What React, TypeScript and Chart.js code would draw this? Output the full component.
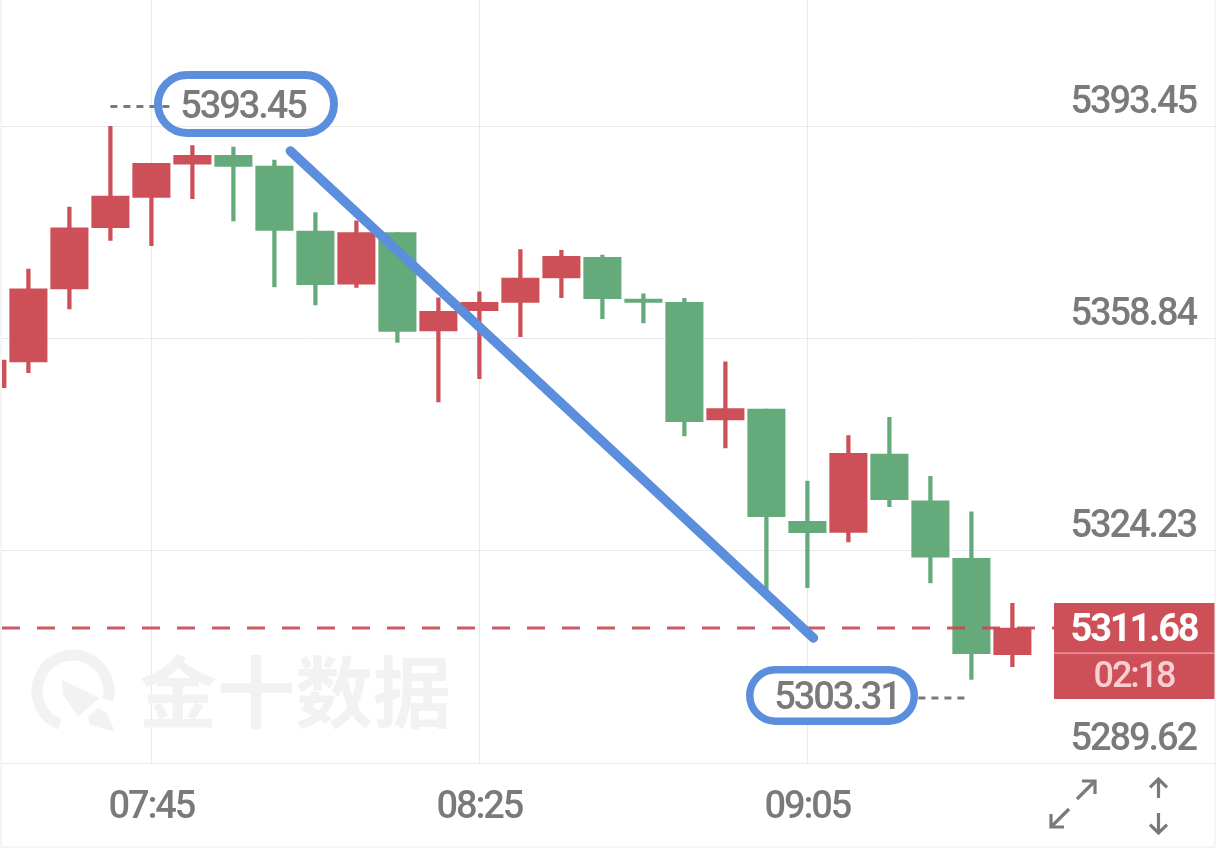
import React, { useEffect, useRef } from "react";
import { Chart, registerables } from "chart.js";

Chart.register(...registerables);

const times = ["07:25","07:30","07:35","07:40","07:45","07:50","07:55","08:00","08:05","08:10","08:15","08:20","08:25","08:30","08:35","08:40","08:45","08:50","08:55","09:00","09:05","09:10","09:15","09:20","09:25","09:30"];
const opens = [5350.84,5355.03,5366.93,5376.92,5381.88,5387.26,5388.72,5386.98,5376.38,5367.70,5376.11,5360.08,5363.39,5364.76,5368.72,5372.10,5365.30,5364.76,5345.58,5347.37,5329.06,5327.27,5340.03,5332.42,5323.03,5307.32];
const highs = [5355.36,5370.19,5380.30,5393.45,5387.42,5390.29,5390.08,5387.96,5379.37,5378.06,5376.11,5365.51,5366.49,5373.34,5373.24,5372.47,5366.16,5365.41,5355.08,5347.37,5335.63,5343.02,5346.02,5336.40,5330.63,5315.70];
const lows = [5350.84,5353.29,5363.67,5374.87,5373.99,5381.65,5378.01,5367.26,5364.32,5367.21,5358.24,5348.51,5352.31,5359.15,5365.51,5362.09,5361.39,5342.97,5341.01,5317.54,5318.24,5325.69,5331.44,5319.01,5303.31,5305.36];
const closes = [5355.36,5366.98,5376.92,5382.09,5387.42,5388.72,5386.93,5376.50,5367.63,5376.11,5360.03,5363.29,5364.76,5368.72,5372.26,5365.35,5364.76,5345.30,5347.42,5329.81,5327.21,5340.15,5332.59,5323.20,5307.48,5311.68];

const priceTicks = [5393.45, 5358.84, 5324.23, 5289.62];
const timeTicks = ["07:45", "08:25", "09:05"];
const currentPrice = 5311.68;
const countdown = "02:18";
const maxPrice = 5393.45;
const minPrice = 5303.31;
const trendTimes = ["08:01:57", "09:05:44"];
const trendPrices = [5389.42, 5310.04];
const watermark = "金十数据";

const RED = "#cd5058";
const GREEN = "#64aa7a";
const BLUE = "#5c8ede";
const GRAY = "#7a7a7a";
const FONT = "Roboto, sans-serif";
const TRACK = "-2.1px";

const toMin = (t: string) => {
  const p = t.split(":").map(Number);
  return p[0] * 60 + p[1] + (p[2] || 0) / 60;
};
const fromMin = (m: number) => {
  const h = Math.floor(m / 60);
  const mm = Math.round(m - h * 60);
  return `${String(h).padStart(2, "0")}:${String(mm).padStart(2, "0")}`;
};
const colors = opens.map((o, i) => (closes[i] >= o ? RED : GREEN));

function pill(ctx: CanvasRenderingContext2D, x0: number, y0: number, x1: number, y1: number, w: number) {
  ctx.beginPath();
  ctx.roundRect(x0 + w / 2, y0 + w / 2, x1 - x0 - w, y1 - y0 - w, (y1 - y0 - w) / 2);
  ctx.lineWidth = w;
  ctx.strokeStyle = BLUE;
  ctx.stroke();
}

function arrow(ctx: CanvasRenderingContext2D, ax: number, ay: number, bx: number, by: number, s: number) {
  const a = Math.atan2(by - ay, bx - ax);
  ctx.beginPath();
  ctx.moveTo(ax, ay);
  ctx.lineTo(bx, by);
  ctx.moveTo(bx - s * Math.cos(a - Math.PI / 4), by - s * Math.sin(a - Math.PI / 4));
  ctx.lineTo(bx, by);
  ctx.lineTo(bx - s * Math.cos(a + Math.PI / 4), by - s * Math.sin(a + Math.PI / 4));
  ctx.stroke();
}

const backgroundPlugin = {
  id: "wm",
  beforeDraw(chart: any) {
    (chart.ctx as any).letterSpacing = TRACK;
  },
  beforeDatasetsDraw(chart: any) {
    const ctx: any = chart.ctx;
    ctx.save();
    ctx.letterSpacing = "0px";
    ctx.fillStyle = "#f2f2f2";
    ctx.font = 'bold 78px "Noto Sans CJK SC"';
    ctx.textBaseline = "middle";
    ctx.textAlign = "left";
    ctx.fillText(watermark, 139, 692);
    ctx.strokeStyle = "#f2f2f2";
    ctx.lineWidth = 11;
    ctx.beginPath();
    ctx.arc(73, 691, 36, Math.PI * 0.62, Math.PI * 2.08);
    ctx.stroke();
    ctx.beginPath();
    [[62, 680], [100, 698], [82, 713], [78, 717], [63, 695]].forEach(([x, y], i) => (i ? ctx.lineTo(x, y) : ctx.moveTo(x, y)));
    ctx.closePath();
    ctx.fill();
    ctx.beginPath();
    [[98, 708], [107, 713], [115, 732], [90, 725], [88, 717]].forEach(([x, y], i) => (i ? ctx.lineTo(x, y) : ctx.moveTo(x, y)));
    ctx.closePath();
    ctx.fill();
    ctx.restore();
  },
};

const overlayPlugin = {
  id: "overlay",
  afterDatasetsDraw(chart: any) {
    const ctx: CanvasRenderingContext2D = chart.ctx;
    const xs = chart.scales.x;
    const hiIdx = highs.indexOf(maxPrice);
    const loIdx = lows.indexOf(minPrice);
    const hiX = xs.getPixelForValue(toMin(times[hiIdx]));
    const loX = xs.getPixelForValue(toMin(times[loIdx]));
    ctx.save();
    // frame
    ctx.strokeStyle = "#ececec";
    ctx.lineWidth = 1;
    ctx.strokeRect(1, -2, 1214, 849);
    // hi / lo markers
    ctx.strokeStyle = GRAY;
    ctx.lineWidth = 2.8;
    ctx.setLineDash([7, 6]);
    ctx.beginPath();
    ctx.moveTo(hiX, 106.5);
    ctx.lineTo(hiX + 65, 106.5);
    ctx.moveTo(loX - 53, 698);
    ctx.lineTo(loX - 6, 698);
    ctx.stroke();
    ctx.setLineDash([]);
    ctx.fillStyle = "#ffffff";
    ctx.beginPath();
    ctx.roundRect(750, 670, 164, 51, 25);
    ctx.fill();
    ctx.fillStyle = GRAY;
    ctx.font = `500 38px ${FONT}`;
    ctx.textAlign = "center";
    ctx.textBaseline = "middle";
    ctx.fillText(maxPrice.toFixed(2), 243, 108);
    ctx.fillText(minPrice.toFixed(2), 837, 699);
    pill(ctx, 154, 71, 338, 137, 8);
    pill(ctx, 746, 666, 918, 725, 7.5);
    // price tag
    ctx.fillStyle = RED;
    ctx.fillRect(1054, 603, 160.5, 96);
    ctx.fillStyle = "#f3a8ac";
    ctx.fillRect(1054, 652.5, 160.5, 1.2);
    ctx.fillStyle = "#ffffff";
    ctx.font = `bold 38px ${FONT}`;
    ctx.fillText(currentPrice.toFixed(2), 1134, 631);
    ctx.fillStyle = "#f9cfd1";
    ctx.font = `500 36px ${FONT}`;
    ctx.fillText(countdown, 1134, 678);
    // icons
    ctx.strokeStyle = GRAY;
    ctx.lineWidth = 3.2;
    arrow(ctx, 1077, 799, 1095, 781, 13);
    arrow(ctx, 1069, 809, 1051, 827, 13);
    arrow(ctx, 1158.5, 798, 1158.5, 779, 12);
    arrow(ctx, 1158.5, 813, 1158.5, 833, 12);
    ctx.restore();
  },
};

export default function App() {
  const ref = useRef<HTMLCanvasElement>(null);
  useEffect(() => {
    if (!ref.current) return;
    const minutes = times.map(toMin);
    const xMin = 446.78;
    const xMax = 594.83;
    const chart = new Chart(ref.current, {
      type: "bar",
      data: {
        datasets: [
          {
            type: "line",
            order: 1,
            data: trendTimes.map((t, i) => ({ x: toMin(t), y: trendPrices[i] })),
            borderColor: BLUE,
            borderWidth: 9.5,
            borderCapStyle: "round",
            pointRadius: 0,
            tension: 0,
          },
          {
            type: "line",
            order: 2,
            data: [{ x: xMin, y: currentPrice }, { x: xMax, y: currentPrice }],
            borderColor: "rgba(200,72,82,0.9)",
            borderWidth: 3,
            borderDash: [18, 17],
            pointRadius: 0,
          },
          {
            type: "bar",
            order: 3,
            data: minutes.map((x, i) => ({ x, y: [opens[i], closes[i]] })),
            backgroundColor: colors,
            barThickness: 37.4,
            grouped: false,
            borderWidth: 0,
          },
          {
            type: "bar",
            order: 4,
            data: minutes.map((x, i) => ({ x, y: [lows[i], highs[i]] })),
            backgroundColor: colors,
            barThickness: 3.6,
            grouped: false,
            borderWidth: 0,
          },
        ] as any,
      },
      options: {
        responsive: false,
        animation: false,
        events: [],
        layout: { padding: { left: 2, right: 0, top: 0, bottom: 0 } },
        plugins: { legend: { display: false }, tooltip: { enabled: false }, title: { display: false } },
        scales: {
          x: {
            type: "linear",
            min: xMin,
            max: xMax,
            offset: false,
            grid: { color: "#e9e9e9", lineWidth: 1, offset: false, drawTicks: false },
            border: { display: false },
            afterBuildTicks: (s: any) => {
              s.ticks = timeTicks.map((t) => ({ value: toMin(t) }));
            },
            afterFit: (s: any) => {
              s.height = 84.7;
              s.paddingLeft = 0;
              s.paddingRight = 0;
            },
            ticks: {
              autoSkip: false,
              maxRotation: 0,
              padding: 22,
              color: GRAY,
              font: { family: FONT, size: 38, weight: "500" },
              callback: (v: any) => fromMin(Number(v)),
            },
          },
          y: {
            type: "linear",
            position: "right",
            min: 5289.62,
            max: 5414.04,
            grid: { color: "#e9e9e9", lineWidth: 1, drawTicks: false },
            border: { display: false },
            afterBuildTicks: (s: any) => {
              s.ticks = priceTicks.map((value) => ({ value }));
            },
            afterFit: (s: any) => {
              s.width = 0;
              s.paddingTop = 0;
              s.paddingBottom = 0;
            },
            ticks: {
              mirror: true,
              padding: -20,
              labelOffset: -23,
              color: GRAY,
              font: { family: FONT, size: 38, weight: "500" },
              callback: (v: any) => Number(v).toFixed(2),
            },
          },
        },
      },
      plugins: [backgroundPlugin, overlayPlugin],
    } as any);
    return () => chart.destroy();
  }, []);
  return (
    <canvas
      ref={ref}
      width={1216}
      height={848}
      style={{ position: "fixed", left: 0, top: 0, width: 1216, height: 848, display: "block" }}
    />
  );
}
